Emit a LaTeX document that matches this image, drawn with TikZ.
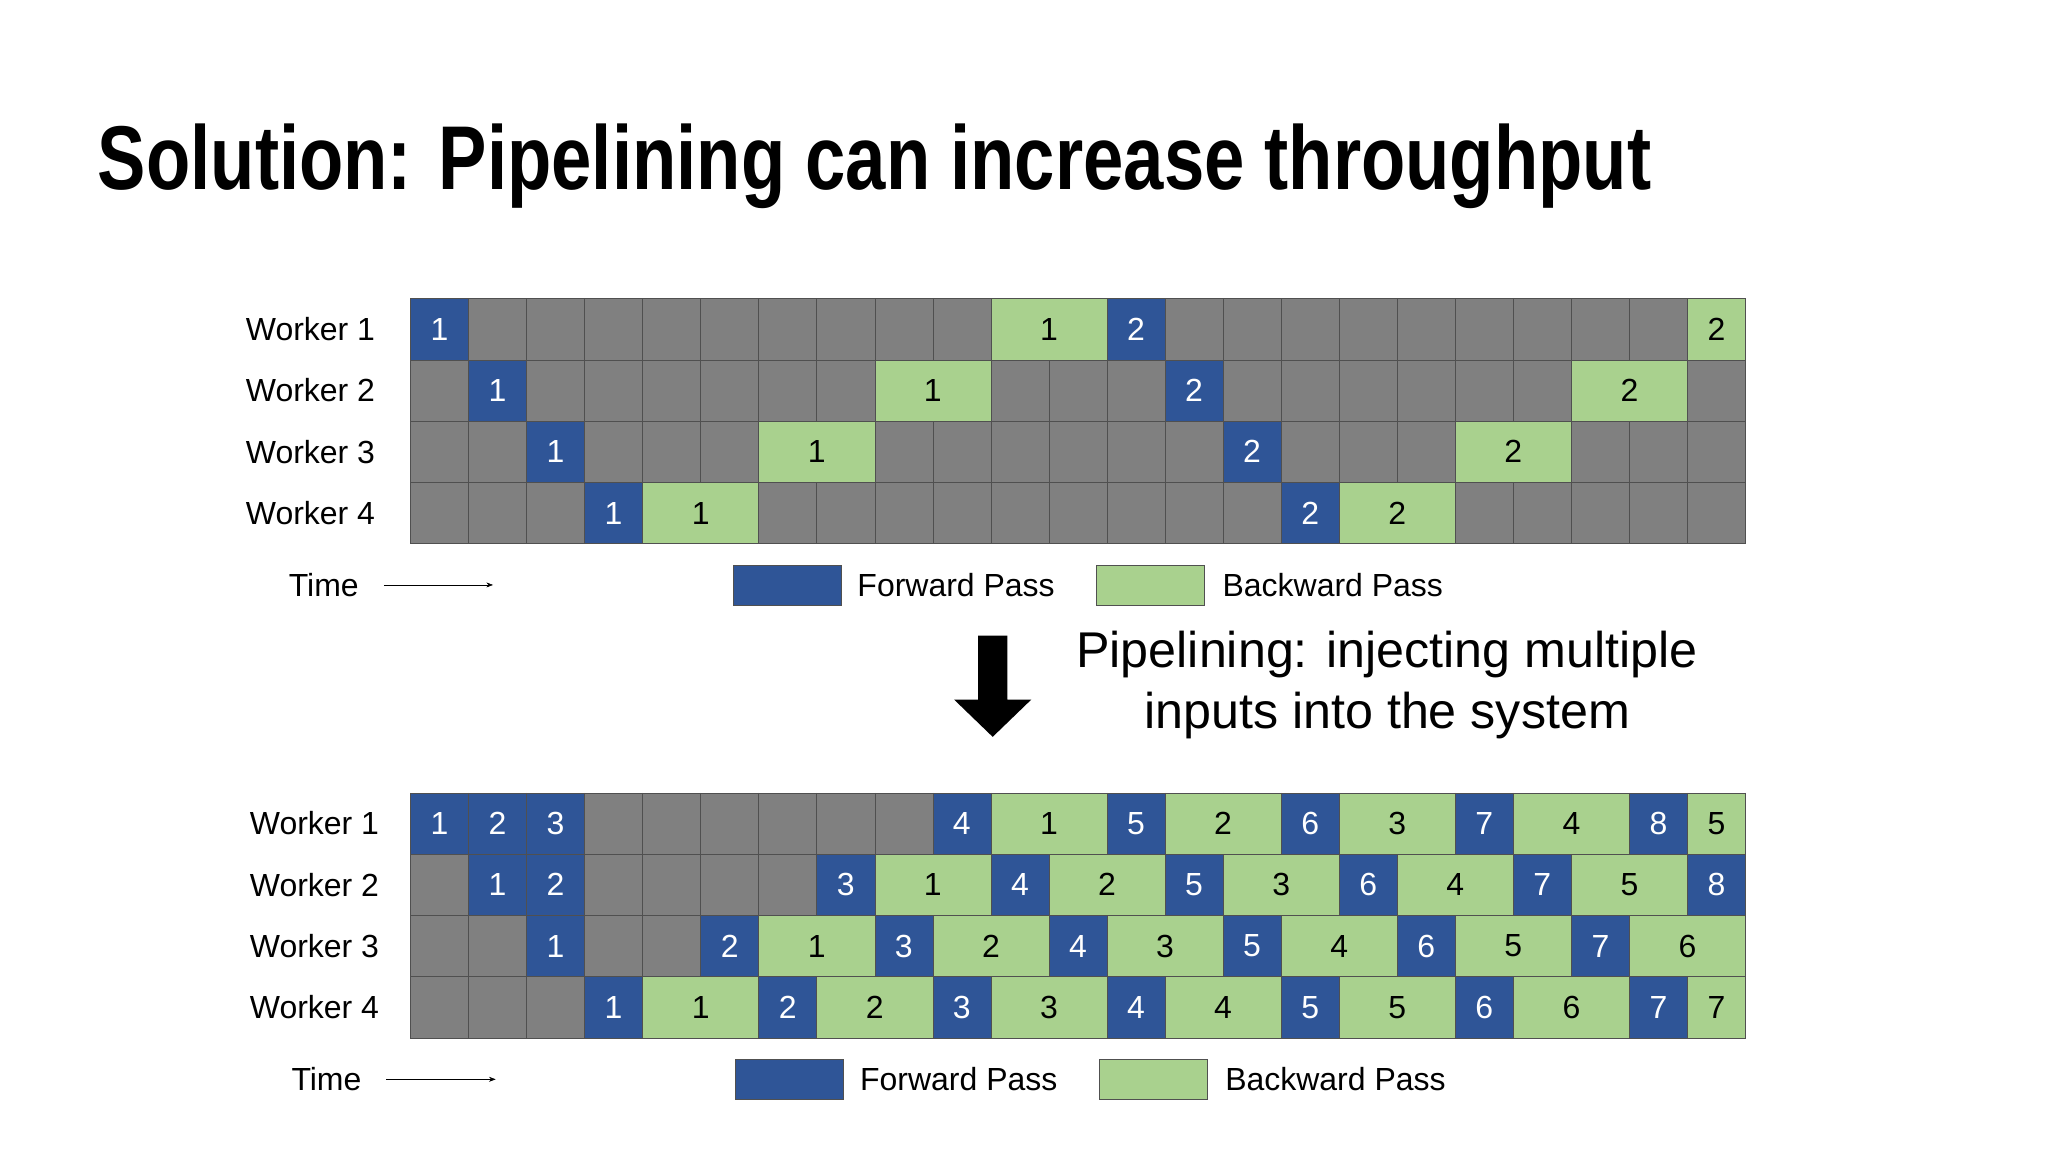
\documentclass[tikz,border=0pt]{standalone}
\usepackage{fontspec}
\setmainfont{Liberation Sans}
\newfontfamily\titlefont{Liberation Sans}[FakeStretch=0.8]
\usetikzlibrary{arrows.meta}
\definecolor{fwdblue}{HTML}{2F5597}
\definecolor{bwdgreen}{HTML}{A9D18E}
\definecolor{idlegrey}{HTML}{808080}
\definecolor{gridline}{HTML}{505050}
\tikzset{
  fwd/.style={fill=fwdblue},
  bwd/.style={fill=bwdgreen},
  fwdtxt/.style={text=white},
  bwdtxt/.style={text=black},
  label/.style={font=\fontsize{24}{28}\selectfont},
  worker/.style={label,anchor=east},
}
\newcommand\colw{43.565}
% grey grid with worker labels, #1 = top, #2 = label right edge
\newcommand\schedgrid[2]{
  \fill[idlegrey] (308,#1) rectangle (1310,#1+184);
  \foreach \c in {0,...,23} \draw[gridline] (308+\c*\colw,#1) -- ++(0,184);
  \foreach \r in {0,...,4} \draw[gridline] (308,#1+\r*46) -- (1310,#1+\r*46);
  \foreach \r in {1,...,4} \node[worker] (w\r-#1) at (#2,#1+\r*46-23) {Worker \r};
}
% timeline and legend, #1 = centre line, #2 = shift
\newcommand\schedlegend[2]{
  \node[label] (time#1) at (243+#2,#1) {Time};
  \coordinate (ta#1) at (288+#2,#1);
  \coordinate (tb#1) at (370+#2,#1);
  \draw[-{Stealth[length=5pt]}] (ta#1) -- (tb#1);
  \draw[gridline,fwd] (550+#2,#1-15) rectangle (631+#2,#1+15);
  \node[label,anchor=west] (fp#1) at (640+#2,#1) {Forward Pass};
  \draw[gridline,bwd] (823+#2,#1-15) rectangle (904+#2,#1+15);
  \node[label,anchor=west] (bp#1) at (914+#2,#1) {Backward Pass};
}
\begin{document}
\begin{tikzpicture}[x=1pt,y=-1pt]
\useasboundingbox (0,0) rectangle (1537,864);
\fill[white] (0,0) rectangle (1537,864);

\node[anchor=west,font=\titlefont\bfseries\fontsize{68}{80}\selectfont] (title) at (70,125) {Solution: Pipelining can increase throughput};

% before pipelining
\schedgrid{224}{285}
\foreach \r/\c/\n/\k/\t in {0/0/1/fwd/1,0/10/2/bwd/1,0/12/1/fwd/2,0/22/1/bwd/2,
  1/1/1/fwd/1,1/8/2/bwd/1,1/13/1/fwd/2,1/20/2/bwd/2,
  2/2/1/fwd/1,2/6/2/bwd/1,2/14/1/fwd/2,2/18/2/bwd/2,
  3/3/1/fwd/1,3/4/2/bwd/1,3/15/1/fwd/2,3/16/2/bwd/2}{
  \draw[gridline,\k] (308+\c*\colw,224+\r*46) rectangle ++(\n*\colw,46);
  \node[label,\k txt] at (308+\c*\colw+\n*\colw/2,247+\r*46) {\t};
}
\schedlegend{439}{0}

% arrow and note
\fill[black] (734,477) -- (756,477) -- (756,525) -- (774,525) -- (745,553) -- (716,525) -- (734,525) -- cycle;
\node[align=center,font=\fontsize{37.7}{46}\selectfont] (note) at (1041,514) {Pipelining: injecting multiple\\inputs into the system};

% with pipelining
\schedgrid{595}{288}
\foreach \r/\c/\n/\k/\t in {0/0/1/fwd/1,0/1/1/fwd/2,0/2/1/fwd/3,0/9/1/fwd/4,0/10/2/bwd/1,0/12/1/fwd/5,0/13/2/bwd/2,0/15/1/fwd/6,0/16/2/bwd/3,0/18/1/fwd/7,0/19/2/bwd/4,0/21/1/fwd/8,0/22/1/bwd/5,
  1/1/1/fwd/1,1/2/1/fwd/2,1/7/1/fwd/3,1/8/2/bwd/1,1/10/1/fwd/4,1/11/2/bwd/2,1/13/1/fwd/5,1/14/2/bwd/3,1/16/1/fwd/6,1/17/2/bwd/4,1/19/1/fwd/7,1/20/2/bwd/5,1/22/1/fwd/8,
  2/2/1/fwd/1,2/5/1/fwd/2,2/6/2/bwd/1,2/8/1/fwd/3,2/9/2/bwd/2,2/11/1/fwd/4,2/12/2/bwd/3,2/14/1/fwd/5,2/15/2/bwd/4,2/17/1/fwd/6,2/18/2/bwd/5,2/20/1/fwd/7,2/21/2/bwd/6,
  3/3/1/fwd/1,3/4/2/bwd/1,3/6/1/fwd/2,3/7/2/bwd/2,3/9/1/fwd/3,3/10/2/bwd/3,3/12/1/fwd/4,3/13/2/bwd/4,3/15/1/fwd/5,3/16/2/bwd/5,3/18/1/fwd/6,3/19/2/bwd/6,3/21/1/fwd/7,3/22/1/bwd/7}{
  \draw[gridline,\k] (308+\c*\colw,595+\r*46) rectangle ++(\n*\colw,46);
  \node[label,\k txt] at (308+\c*\colw+\n*\colw/2,618+\r*46) {\t};
}
\schedlegend{810}{2}
\end{tikzpicture}
\end{document}
